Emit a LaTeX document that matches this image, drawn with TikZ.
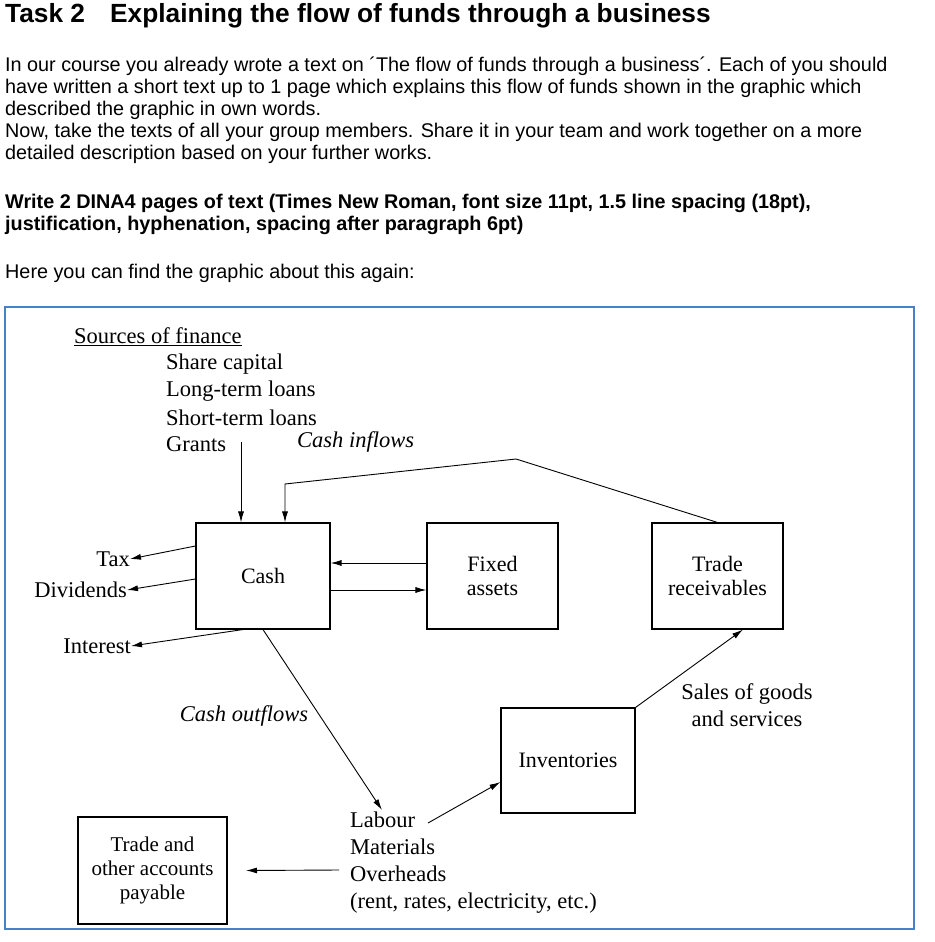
\documentclass[tikz,border=0pt]{standalone}
\usepackage{fontspec}
\setmainfont{Liberation Sans}
\newfontfamily\serf{Liberation Serif}
\usetikzlibrary{arrows.meta}
\definecolor{frame}{RGB}{70,130,200}
\begin{document}
\begin{tikzpicture}[x=1pt,y=-1pt,
  hd/.style={anchor=west,inner sep=0pt,font=\fontsize{19.8}{22}\selectfont},
  hb/.style={hd,font=\fontsize{19.8}{22}\selectfont\bfseries},
  st/.style={inner sep=0pt,font=\serf\fontsize{22.5}{27}\selectfont},
  sl/.style={st,anchor=west},
  bx/.style={draw,line width=1.1pt,inner sep=0pt,align=center,font=\serf\fontsize{22}{27}\selectfont},
  ar/.style={-{Latex[length=11pt,width=6pt]},line width=0.9pt},
  ln/.style={line width=0.9pt}]
\useasboundingbox (0,0) rectangle (934,942);
\node[anchor=west,inner sep=0pt,font=\fontsize{26.3}{28}\selectfont\bfseries] (title) at (5,16) {Task 2\hspace{25pt}Explaining the flow of funds through a business};
\node[hd] (l1) at (5,66) {In our course you already wrote a text on ´The flow of funds through a business´. Each of you should};
\node[hd] (l2) at (5,88) {have written a short text up to 1 page which explains this flow of funds shown in the graphic which};
\node[hd] (l3) at (5,110) {described the graphic in own words.};
\node[hd] (l4) at (5,132) {Now, take the texts of all your group members. Share it in your team and work together on a more};
\node[hd] (l5) at (5,154) {detailed description based on your further works.};
\node[hb] (b1) at (5,203) {Write 2 DINA4 pages of text (Times New Roman, font size 11pt, 1.5 line spacing (18pt),};
\node[hb] (b2) at (5,225) {justification, hyphenation, spacing after paragraph 6pt)};
\node[hd] (l6) at (5,273) {Here you can find the graphic about this again:};
\draw[frame,line width=1.3pt] (5,307) rectangle (914,929);
% sources
\node[sl] (src) at (74,337) {\underline{Sources of finance}};
\node[sl] (s1) at (166,364) {Share capital};
\node[sl] (s2) at (166,391) {Long-term loans};
\node[sl] (s3) at (166,418) {Short-term loans};
\node[sl] (s4) at (166,444) {Grants};
\node[sl] (ci) at (297,442) {\itshape Cash inflows};
% boxes
\node[bx,minimum width=134pt,minimum height=106pt] (cash) at (263,576) {Cash};
\node[bx,minimum width=131pt,minimum height=106pt] (fix) at (492.5,576) {Fixed\\[-3pt]assets};
\node[bx,minimum width=131pt,minimum height=106pt] (tr) at (717.5,576) {Trade\\[-3pt]receivables};
\node[bx,minimum width=134pt,minimum height=105pt] (inv) at (568,760.5) {Inventories};
\node[bx,minimum width=149pt,minimum height=107pt,font=\serf\fontsize{21}{27}\selectfont] (tp) at (152.5,870.5) {Trade and\\[-3pt]other accounts\\[-3pt]payable};
% left labels
\node[st,anchor=east] (tax) at (130,559) {Tax};
\node[st,anchor=east] (div) at (127,590) {Dividends};
\node[st,anchor=east] (int) at (131,646) {Interest};
\node[st] (co) at (244,716) {\itshape Cash outflows};
\node[st,align=center] (sg) at (747,705) {Sales of goods\\and services};
\node[st,anchor=north west,align=left] (lab) at (350,812) {Labour\\Materials\\Overheads\\(rent, rates, electricity, etc.)};
\coordinate (peak) at (516,459);
\coordinate (bend) at (285,484);
\coordinate (grt) at (241,442);
\coordinate (labtop) at (382,810);
\coordinate (labr) at (428,823);
\coordinate (labl) at (339,870);
% connectors
\draw[ar] (grt) -- (cash.north -| grt);
\draw[ar] (tr.north) -- (peak) -- (bend) -- (cash.north -| bend);
\draw[ar] (fix.west |- 0,563) -- (cash.east |- 0,563);
\draw[ar] (cash.east |- 0,590) -- (fix.west |- 0,590);
\draw[ar] (cash.west |- 0,546) -- (tax.east);
\draw[ar] (cash.west |- 0,579) -- (div.east);
\draw[ar] (cash.south -| 243,0) -- (int.east);
\draw[ar] (cash.south) -- (labtop);
\draw[ar] (inv.north east) -- (tr.south -| 743,0);
\draw[ar] (labr) -- (inv.west |- 0,782);
\draw[ar] (labl) -- (tp.east -| 246,0);
\end{tikzpicture}
\end{document}
